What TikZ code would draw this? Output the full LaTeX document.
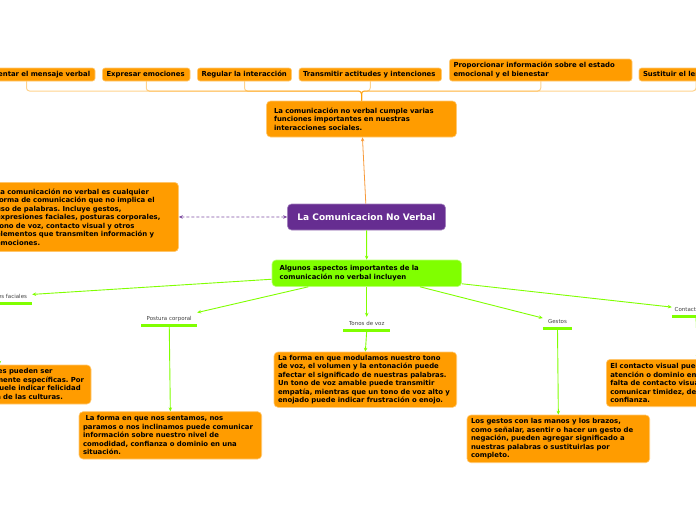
\documentclass[tikz,border=0pt]{standalone}
\usepackage{fontspec}
\setmainfont{DejaVu Sans}
\usetikzlibrary{arrows.meta}
\definecolor{orbox}{HTML}{FF9C00}
\definecolor{orline}{HTML}{F79A3A}
\definecolor{orpale}{HTML}{FF9C00}
\definecolor{grn}{HTML}{80FF00}
\definecolor{purp}{HTML}{662D91}
\newcommand\bx[8][]{%
  \pgfmathsetmacro\bxw{#5-#3}\pgfmathsetmacro\bxh{#6-#4}%
  \pgfmathsetmacro\bxcx{(#3+#5)/2}\pgfmathsetmacro\bxcy{(#4+#6)/2}%
  \pgfmathsetmacro\bxt{#5-#3-2*#7}%
  \node[card,#1,minimum width=\bxw pt,minimum height=\bxh pt,text width=\bxt pt,inner xsep=#7pt] (#2) at (\bxcx,\bxcy) {\frenchspacing #8};}
\newcommand\lb[5]{%
  \pgfmathsetmacro\bxw{#3-#2}\pgfmathsetmacro\bxcx{(#2+#3)/2}\pgfmathsetmacro\bxcy{#4-6.5}%
  \node[tag,minimum width=\bxw pt] (#1) at (\bxcx,\bxcy) {#5};
  \draw[tagbar] (#1.south west) -- (#1.south east);}
\tikzset{
  card/.style={fill=orbox,draw=orbox!55!white,line width=.6pt,rounded corners=4pt,align=left,inner ysep=0pt,
    font=\fontsize{6.9}{8.5}\selectfont\bfseries,text=black},
  small/.style={rounded corners=2.5pt},
  tag/.style={minimum height=13pt,inner sep=0pt,font=\fontsize{5.5}{6}\selectfont,text=black!75},
  tagbar/.style={grn,line width=3pt},
  gline/.style={grn,line width=.9pt,-{Stealth[length=4pt,width=3.5pt]}},
  bus/.style={orpale,opacity=.45,line width=1pt,rounded corners=3pt},
  mainarrow/.style={orline,line width=.8pt,-{Stealth[length=4pt,width=3.5pt]}},
  dashlink/.style={purp!85!white,line width=.9pt,dash pattern=on 3pt off 2pt,{Stealth[length=4pt,width=3.5pt]}-{Stealth[length=4pt,width=3.5pt]}},
}
\begin{document}
\begin{tikzpicture}[x=1pt,y=-1pt]
\useasboundingbox (0,0) rectangle (696,520);
% top row
\bx[small]{t1}{-42}{68}{95}{81}{4}{Complementar el mensaje verbal}
\bx[small]{t2}{102.5}{68}{190}{81}{4}{Expresar emociones}
\bx[small]{t3}{197.5}{68}{291.5}{81}{4}{Regular la interacción}
\bx[small]{t4}{299}{68}{441.5}{81}{4}{Transmitir actitudes y intenciones}
\bx[small]{t5}{449.5}{59}{632}{81}{4}{Proporcionar información sobre el estado\\emocional y el bienestar}
\bx[small]{t6}{639}{68}{753}{81}{4}{Sustituir el lenguaje verbal}
% main boxes
\bx{fn}{266.5}{101}{456.5}{137}{7.5}{La comunicación no verbal cumple varias\\funciones importantes en nuestras\\interacciones sociales.}
\bx{def}{-8}{182.3}{178.5}{251.6}{4}{La comunicación no verbal es cualquier\\forma de comunicación que no implica el\\uso de palabras. Incluye gestos,\\expresiones faciales, posturas corporales,\\tono de voz, contacto visual y otros\\elementos que transmiten información y\\emociones.}
\node[fill=purp,draw=purp!60!white,line width=.6pt,rounded corners=4pt,minimum width=158pt,minimum height=26pt,inner sep=0pt,
  text=white,font=\fontsize{9}{10}\selectfont\bfseries] (root) at (366.5,217) {La Comunicacion No Verbal};
\bx[fill=grn,draw=grn!55!white]{asp}{272}{260}{461.5}{286.5}{7.5}{Algunos aspectos importantes de la\\comunicación no verbal incluyen}
% labels
\lb{lfac}{-34}{32}{303}{Expresiones faciales}
\lb{lpos}{141.5}{197}{325.5}{Postura corporal}
\lb{lton}{343.5}{390}{330}{Tonos de voz}
\lb{lges}{543}{572}{328.3}{Gestos}
\lb{lcon}{672}{720}{316.3}{Contacto visual}
% detail boxes
\bx{bfac}{-92}{365}{91}{404}{4}{Las expresiones faciales pueden ser\\universales o culturalmente específicas. Por\\ejemplo, una sonrisa suele indicar felicidad\\o alegría en la mayoría de las culturas.}
\bx{bpos}{79}{411.7}{261.7}{459}{4}{\hspace*{2.5pt}La forma en que nos sentamos, nos\\paramos o nos inclinamos puede comunicar\\información sobre nuestro nivel de\\comodidad, confianza o dominio en una\\situación.}
\bx{bton}{274}{352}{456.7}{407.3}{4}{La forma en que modulamos nuestro tono\\de voz, el volumen y la entonación puede\\afectar el significado de nuestras palabras.\\Un tono de voz amable puede transmitir\\empatía, mientras que un tono de voz alto y\\enojado puede indicar frustración o enojo.}
\bx{bges}{467}{415}{649.7}{462.7}{4}{Los gestos con las manos y los brazos,\\como señalar, asentir o hacer un gesto de\\negación, pueden agregar significado a\\nuestras palabras o sustituirlas por\\completo.}
\bx{bcon}{606.3}{359.3}{789}{406.7}{4}{El contacto visual puede indicar interés,\\atención o dominio en una situación. La\\falta de contacto visual puede\\comunicar timidez, desinterés o falta de\\confianza.}
% connectors
\coordinate (busc) at (361.5,91);
\foreach \t in {t1,t2,t3,t4,t5,t6}{\draw[bus] (\t.south) |- (busc) -- (fn.north);}
\draw[mainarrow] (root) -- (fn);
\draw[dashlink] (def) -- (root);
\draw[gline] (root) -- (asp);
\foreach \l in {lfac,lpos,lton,lges,lcon}{\draw[gline] (asp) -- (\l);}
\foreach \l/\b in {lfac/bfac,lpos/bpos,lton/bton,lges/bges,lcon/bcon}{\draw[gline] (\l.south) -- (\b.north);}
\end{tikzpicture}
\end{document}
